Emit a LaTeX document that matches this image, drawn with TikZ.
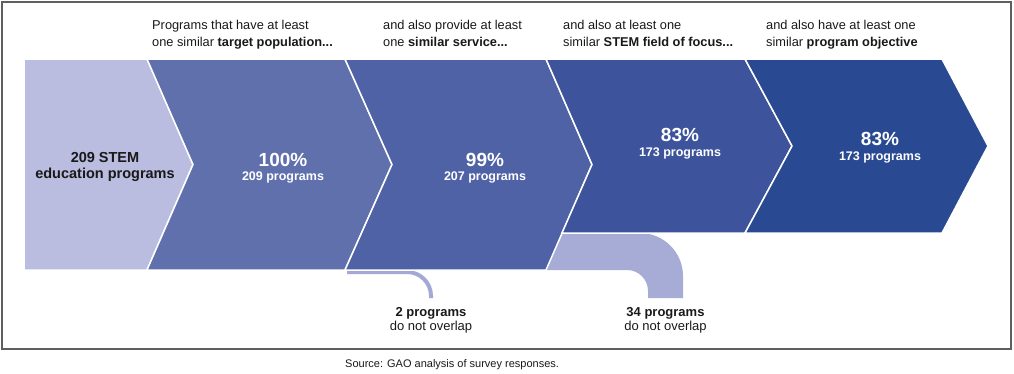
\documentclass[tikz,border=0pt]{standalone}
\usepackage{fontspec}
\setmainfont{Liberation Sans}
\definecolor{cA}{RGB}{186,188,224}
\definecolor{cB}{RGB}{96,112,173}
\definecolor{cC}{RGB}{79,98,166}
\definecolor{cD}{RGB}{61,84,156}
\definecolor{cE}{RGB}{41,74,147}
\definecolor{cL}{RGB}{167,172,214}
\definecolor{cT}{RGB}{163,168,213}
\definecolor{ink}{RGB}{25,25,25}
\definecolor{frm}{RGB}{95,95,95}
\begin{document}
\begin{tikzpicture}[x=1pt,y=-1pt,
  segment/.style={draw=white,line width=1.5pt,line join=miter},
  toplab/.style={anchor=north west,inner sep=0pt,align=left,text=ink,font=\fontsize{12.8}{16.7}\selectfont},
  pct/.style={anchor=base,inner sep=0pt,text=white,font=\fontsize{19}{22}\selectfont\bfseries},
  cnt/.style={anchor=base,inner sep=0pt,text=white,font=\fontsize{12.5}{15}\selectfont\bfseries},
  botb/.style={anchor=base,inner sep=0pt,text=ink,font=\fontsize{13}{16}\selectfont\bfseries},
  botr/.style={anchor=base,inner sep=0pt,text=ink,font=\fontsize{13}{16}\selectfont}]
\useasboundingbox (0,0) rectangle (1014,373);
\draw[frm,line width=1.6pt] (2,2) rectangle (1011,349);
% overlap pieces
\fill[cL] (562,233) -- (640,233) .. controls (663.7,233) and (683,252.3) .. (683,276)
  -- (683,298) -- (648,298) -- (648,291) .. controls (648,279.4) and (638.6,270) .. (627,270)
  -- (546,270) -- cycle;
\draw[cT,line width=4pt] (347,272) -- (407,272) .. controls (420.3,272) and (431,282.7) .. (431,296) -- (431,298);
% segments
\filldraw[segment,fill=cA] (24,59) -- (147,59) -- (193,164.5) -- (147,270) -- (24,270) -- cycle;
\filldraw[segment,fill=cB] (147,59) -- (345,59) -- (392,164.5) -- (345,270) -- (147,270) -- (193,164.5) -- cycle;
\filldraw[segment,fill=cC] (345,59) -- (546,59) -- (592,164.5) -- (546,270) -- (345,270) -- (392,164.5) -- cycle;
\filldraw[segment,fill=cD] (546,59) -- (745,59) -- (792,146) -- (745,233) -- (562,233) -- (592,164.5) -- cycle;
\filldraw[segment,fill=cE] (745,59) -- (942,59) -- (988,146) -- (942,233) -- (745,233) -- (792,146) -- cycle;
% top labels
\node[toplab] (t1) at (152,20.1) {Programs that have at least\\one similar \textbf{target population...}};
\node[toplab] (t2) at (383,20.1) {and also provide at least\\one \textbf{similar service...}};
\node[toplab] (t3) at (563,20.1) {and also at least one\\similar \textbf{STEM field of focus...}};
\node[toplab] (t4) at (766,20.1) {and also have at least one\\similar \textbf{program objective}};
% segment texts
\node[anchor=base,inner sep=0pt,text=ink,font=\fontsize{14.5}{17}\selectfont\bfseries] (s1a) at (105,162.7) {209 STEM};
\node[anchor=base,inner sep=0pt,text=ink,font=\fontsize{14.5}{17}\selectfont\bfseries] (s1b) at (105,178.3) {education programs};
\node[pct] (p2) at (283,166.7) {100\%};
\node[cnt] (c2) at (283,180.3) {209 programs};
\node[pct] (p3) at (485,166.3) {99\%};
\node[cnt] (c3) at (485,180.3) {207 programs};
\node[pct] (p4) at (680,141.7) {83\%};
\node[cnt] (c4) at (680,156.7) {173 programs};
\node[pct] (p5) at (880,145.7) {83\%};
\node[cnt] (c5) at (880,160) {173 programs};
% bottom labels
\node[botb] (b1a) at (431,316.7) {2 programs};
\node[botr] (b1b) at (431,330) {do not overlap};
\node[botb] (b2a) at (665.5,316.7) {34 programs};
\node[botr] (b2b) at (665.5,330) {do not overlap};
% source
\node[anchor=base west,inner sep=0pt,text=ink,font=\fontsize{11}{13}\selectfont] (src) at (345,367) {Source: GAO analysis of survey responses.};
\end{tikzpicture}
\end{document}
